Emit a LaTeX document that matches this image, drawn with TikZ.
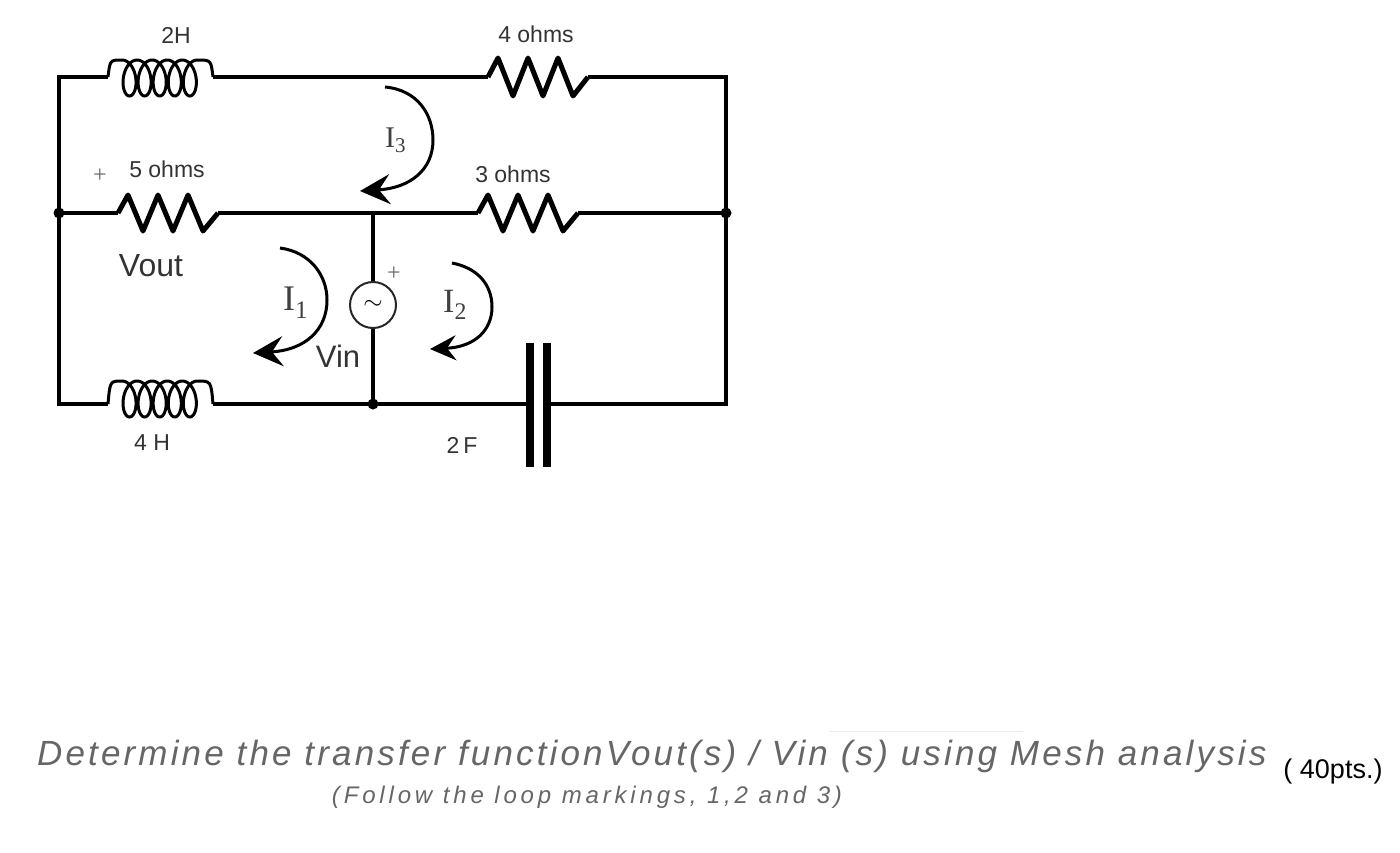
\documentclass[tikz,border=0pt]{standalone}
\usepackage{fontspec}
\setmainfont{Liberation Sans}
\newfontfamily\serifI{Liberation Serif}
\newfontfamily\notefont[LetterSpace=9]{Liberation Sans}
\newfontfamily\hintfont[LetterSpace=16]{Liberation Sans}
\usetikzlibrary{arrows.meta}
\tikzstyle{wire} = [draw, line width=4pt]
\tikzstyle{coil} = [draw, line width=3pt]
\tikzstyle{res} = [draw, line width=5pt, line join=round]
\tikzstyle{plate} = [draw, line width=8pt]
\tikzstyle{looparrow} = [draw, line width=3pt, -{Stealth[length=30pt, width=30pt, inset=11pt]}]
\tikzstyle{lbl} = [inner sep=0pt, anchor=base, text=black!80, font=\fontsize{23}{23}\selectfont]
\tikzstyle{ilbl} = [inner sep=0pt, anchor=base west, text=black!75, font=\serifI\fontsize{34}{34}\selectfont]
\tikzstyle{plus} = [inner sep=0pt, text=black!60, font=\serifI\fontsize{24}{24}\selectfont]
\tikzstyle{dot} = [circle, fill, inner sep=0pt, minimum size=11pt]
\tikzstyle{note} = [inner sep=0pt, text=black!60, font=\notefont\fontsize{35}{35}\selectfont\itshape]
\newcommand{\resistor}[3]{\draw[res] (#1,#2) -- ++(10,-#3) -- ++(15,2*#3) -- ++(15,-2*#3) -- ++(15,2*#3) -- ++(15,-2*#3) -- ++(15,2*#3) -- ++(15,-#3);}
\newcommand{\coil}[4]{\draw[coil] (#1,#2) .. controls (#1+2,#3) .. (#1+14,#3) -- plot[domain=0:10*pi, samples=300, variable=\t] ({#1+14+2.4*\t+10*sin(\t r)}, {(#3+#4)/2-(#4-#3)/2*cos(\t r)}) .. controls (#1+103,#3) .. (#1+105,#2);}
\begin{document}
\begin{tikzpicture}[x=1pt, y=-1pt]
	\useasboundingbox (0,0) rectangle (1400,852);
	\coordinate (tl) at (59,77);
	\coordinate (tr) at (726,77);
	\coordinate (ml) at (59,213);
	\coordinate (mm) at (373,213);
	\coordinate (mr) at (726,213);
	\coordinate (bl) at (59,404);
	\coordinate (bm) at (373,404);
	\coordinate (br) at (726,404);
	\coordinate (l1a) at (108,77);
	\coordinate (l1b) at (213,77);
	\coordinate (r4a) at (488,77);
	\coordinate (r4b) at (588,77);
	\coordinate (r5a) at (118,213);
	\coordinate (r5b) at (218,213);
	\coordinate (r3a) at (478,213);
	\coordinate (r3b) at (578,213);
	\coordinate (l2a) at (108,404);
	\coordinate (l2b) at (213,404);
	\coordinate (ca) at (530,404);
	\coordinate (cb) at (547,404);
	\draw[wire] (l1a) -- (tl) -- (bl) -- (l2a);
	\draw[wire] (l1b) -- (r4a);
	\draw[wire] (r4b) -- (tr) -- (br) -- (cb);
	\draw[wire] (ml) -- (r5a);
	\draw[wire] (r5b) -- (r3a);
	\draw[wire] (r3b) -- (mr);
	\draw[wire] (l2b) -- (ca);
	\coil{108}{77}{60}{96}
	\coil{108}{404}{381}{417}
	\resistor{488}{77}{19}
	\resistor{118}{213}{18}
	\resistor{478}{213}{18}
	\draw[plate] (530,343) -- (530,467);
	\draw[plate] (547,343) -- (547,467);
	\node[circle, draw=black!85, line width=2pt, minimum size=46pt, inner sep=0pt, font=\fontsize{30}{30}\selectfont] (src) at (373,305) {$\sim$};
	\draw[wire, line width=3.5pt] (mm) -- (src);
	\draw[wire, line width=3.5pt] (src) -- (bm);
	\node[dot] at (ml) {};
	\node[dot] at (mr) {};
	\node[dot] at (bm) {};
	\draw[looparrow] (385,87) .. controls (418,90) and (433,115) .. (433,140) .. controls (433,170) and (410,188) .. (360,191);
	\draw[looparrow] (280,248) .. controls (310,252) and (327,275) .. (327,300) .. controls (327,330) and (305,350) .. (253,353);
	\draw[looparrow, -{Stealth[length=26pt, width=25pt, inset=9pt]}] (452,263) .. controls (478,268) and (492,285) .. (492,307) .. controls (492,330) and (475,347) .. (430,349);
	\node[ilbl, font=\serifI\fontsize{30}{30}\selectfont] (i3) at (385,147) {I\textsubscript{3}};
	\node[ilbl, font=\serifI\fontsize{36}{36}\selectfont] (i1) at (283,310) {I\textsubscript{1}};
	\node[ilbl] (i2) at (443,312) {I\textsubscript{2}};
	\node[lbl] (l1lbl) at (176,43) {2H};
	\node[lbl] (r4lbl) at (536,42) {4 ohms};
	\node[lbl] (r5lbl) at (167,177) {5 ohms};
	\node[lbl] (r3lbl) at (513,182) {3 ohms};
	\node[lbl, font=\fontsize{32}{32}\selectfont] (vout) at (151,276) {Vout};
	\node[lbl, font=\fontsize{31}{31}\selectfont] (vin) at (338,367) {Vin};
	\node[lbl] (l2lbl) at (152,450) {4 H};
	\node[lbl] (clbl) at (462,453) {2\,F};
	\node[plus] (voutplus) at (100,176) {+};
	\node[plus] (vinplus) at (394,274) {+};
	\draw[black!8, line width=1pt] (830,731) -- (1023,731);
	\node[note, anchor=base west] (task) at (37,765) {Determine the transfer functionVout(s) / Vin (s) using Mesh analysis};
	\node[note, anchor=base, font=\hintfont\fontsize{24}{24}\selectfont\itshape] (hint) at (587,803) {(Follow the loop markings, 1,2 and 3)};
	\node[inner sep=0pt, anchor=base, font=\fontsize{27}{27}\selectfont] (pts) at (1333,778) {( 40pts.)};
\end{tikzpicture}
\end{document}
